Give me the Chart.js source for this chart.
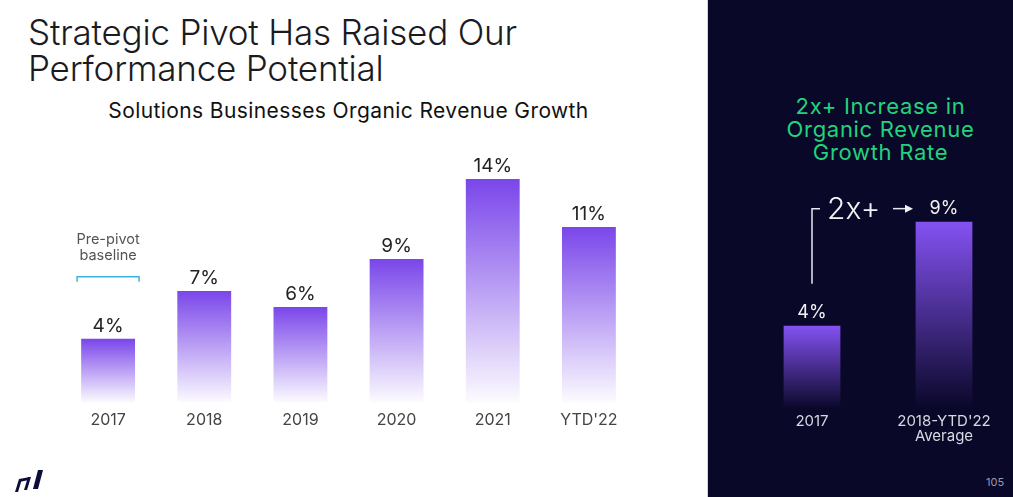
<!DOCTYPE html>
<html lang="en">
<head>
<meta charset="UTF-8">
<title>Strategic Pivot Has Raised Our Performance Potential</title>
<script src="https://cdn.jsdelivr.net/npm/chart.js"></script>
<style>
  body { margin: 0; width: 1013px; height: 497px; position: relative; overflow: hidden; background: #fff; font-family: Inter, "Noto Sans", sans-serif; }
  .title { position: absolute; left: 28px; top: 14px; font-size: 35px; font-weight: 300; line-height: 36px; color: #1b1b1f; letter-spacing: -0.2px; }
  .subtitle { position: absolute; left: 60px; width: 577px; top: 98px; text-align: center; font-size: 21px; color: #111; letter-spacing: 0.4px; }
  .panel { position: absolute; left: 707px; top: 0; width: 306px; height: 497px; background: #0a0828; border-left: 1px solid #d4d4d8; }
  .headline { position: absolute; left: 728px; width: 305px; top: 95px; text-align: center; font-size: 22px; line-height: 23px; color: #22d37b; letter-spacing: 0.7px; }
  .page { position: absolute; left: 986px; top: 475px; font-size: 11px; color: #9a9aae; }
  #leftBox { position: absolute; left: 60px; top: 147px; width: 577px; height: 291px; }
  #rightBox { position: absolute; left: 746px; top: 180px; width: 264px; height: 269px; }
  .logo { position: absolute; left: 13px; top: 468px; }
</style>
</head>
<body>
  <div class="title">Strategic Pivot Has Raised Our<br>Performance Potential</div>
  <div class="subtitle">Solutions Businesses Organic Revenue Growth</div>
  <div class="panel"></div>
  <div class="headline">2x+ Increase in<br>Organic Revenue<br>Growth Rate</div>
  <div class="page">105</div>
  <svg class="logo" width="32" height="26" viewBox="0 0 32 26">
    <polygon points="2,24 5,24 9,11 6,11" fill="#0e0d3a"/>
    <polygon points="6,11 17,9 16,12 6,14" fill="#0e0d3a"/>
    <polygon points="11,22 14,22 18,9 15,9" fill="#0e0d3a"/>
    <polygon points="20,21 25,21 30,2 25,2" fill="#0e0d3a"/>
  </svg>
  <div id="leftBox"><canvas id="growthChart"></canvas></div>
  <div id="rightBox"><canvas id="compareChart"></canvas></div>
  <script>
    const years = ['2017', '2018', '2019', '2020', '2021', "YTD'22"];
    const growth = [4, 7, 6, 9, 14, 11];
    const compareLabels = ['2017', ["2018-YTD'22", 'Average']];
    const compareValues = [4, 9];

    const FONT = 'Inter, "Noto Sans", sans-serif';

    function fadeFill(rgb, endAlpha) {
      return function (c) {
        const chart = c.chart;
        if (!chart.chartArea) return 'rgb(' + rgb + ')';
        const y = chart.scales.y;
        const g = chart.ctx.createLinearGradient(0, y.getPixelForValue(c.raw), 0, y.getPixelForValue(0));
        g.addColorStop(0, 'rgba(' + rgb + ',1)');
        g.addColorStop(1, 'rgba(' + rgb + ',' + endAlpha + ')');
        return g;
      };
    }

    // percent labels above every bar
    const valueLabels = {
      id: 'valueLabels',
      afterDatasetsDraw(chart, args, opts) {
        const ctx = chart.ctx;
        const vals = chart.data.datasets[0].data;
        ctx.save();
        ctx.font = opts.size + 'px ' + FONT;
        ctx.fillStyle = opts.color;
        ctx.textAlign = 'center';
        ctx.textBaseline = 'middle';
        chart.getDatasetMeta(0).data.forEach((bar, i) => {
          ctx.fillText(vals[i] + '%', bar.x, bar.y - opts.offset);
        });
        ctx.restore();
      }
    };

    // "Pre-pivot baseline" bracket over the first bar
    const baselineNote = {
      id: 'baselineNote',
      afterDatasetsDraw(chart) {
        const ctx = chart.ctx;
        const bar = chart.getDatasetMeta(0).data[0];
        const half = 31, by = bar.y - 62;
        ctx.save();
        ctx.strokeStyle = '#3fb3dc';
        ctx.lineWidth = 1.5;
        ctx.beginPath();
        ctx.moveTo(bar.x - half, by + 5);
        ctx.lineTo(bar.x - half, by);
        ctx.lineTo(bar.x + half, by);
        ctx.lineTo(bar.x + half, by + 5);
        ctx.stroke();
        ctx.font = '14.5px ' + FONT;
        ctx.fillStyle = '#555';
        ctx.textAlign = 'center';
        ctx.textBaseline = 'middle';
        ctx.fillText('Pre-pivot', bar.x, by - 37);
        ctx.fillText('baseline', bar.x, by - 21);
        ctx.restore();
      }
    };

    // "2x+" bracket and arrow between the two bars
    const multipleNote = {
      id: 'multipleNote',
      afterDatasetsDraw(chart) {
        const ctx = chart.ctx;
        const meta = chart.getDatasetMeta(0).data;
        const a = meta[0], b = meta[1];
        const ty = b.y - 13;
        ctx.save();
        ctx.strokeStyle = '#e6e6ee';
        ctx.fillStyle = '#f2f2f6';
        ctx.lineWidth = 1.5;
        ctx.beginPath();
        ctx.moveTo(a.x, a.y - 42);
        ctx.lineTo(a.x, ty);
        ctx.lineTo(a.x + 8, ty);
        ctx.stroke();
        ctx.font = '300 30px ' + FONT;
        ctx.textAlign = 'left';
        ctx.textBaseline = 'middle';
        ctx.fillText('2x+', a.x + 15, ty + 1);
        ctx.beginPath();
        ctx.moveTo(a.x + 81, ty);
        ctx.lineTo(a.x + 94, ty);
        ctx.stroke();
        ctx.beginPath();
        ctx.moveTo(a.x + 101, ty);
        ctx.lineTo(a.x + 93, ty - 4);
        ctx.lineTo(a.x + 93, ty + 4);
        ctx.closePath();
        ctx.fill();
        ctx.restore();
      }
    };

    new Chart(document.getElementById('growthChart'), {
      type: 'bar',
      data: {
        labels: years,
        datasets: [{
          data: growth,
          backgroundColor: fadeFill('122,70,234', 0.02),
          categoryPercentage: 1,
          barPercentage: 0.56
        }]
      },
      options: {
        responsive: true,
        maintainAspectRatio: false,
        animation: false,
        layout: { padding: 0 },
        scales: {
          x: {
            grid: { display: false, drawTicks: false },
            border: { display: false },
            ticks: { color: '#444', font: { family: FONT, size: 16 }, padding: 8 }
          },
          y: { display: false, min: 0, max: 16 }
        },
        plugins: {
          legend: { display: false },
          tooltip: { enabled: false },
          valueLabels: { size: 19, color: '#222', offset: 13 }
        }
      },
      plugins: [valueLabels, baselineNote]
    });

    new Chart(document.getElementById('compareChart'), {
      type: 'bar',
      data: {
        labels: compareLabels,
        datasets: [{
          data: compareValues,
          backgroundColor: fadeFill('132,82,242', 0),
          categoryPercentage: 1,
          barPercentage: 0.43
        }]
      },
      options: {
        responsive: true,
        maintainAspectRatio: false,
        animation: false,
        scales: {
          x: {
            grid: { display: false, drawTicks: false },
            border: { display: false },
            ticks: { color: '#d8d8e2', font: { family: FONT, size: 15, lineHeight: 1 }, padding: 5 }
          },
          y: { display: false, min: 0, max: 11 }
        },
        plugins: {
          legend: { display: false },
          tooltip: { enabled: false },
          valueLabels: { size: 18, color: '#f2f2f6', offset: 13 }
        }
      },
      plugins: [valueLabels, multipleNote]
    });
  </script>
</body>
</html>
